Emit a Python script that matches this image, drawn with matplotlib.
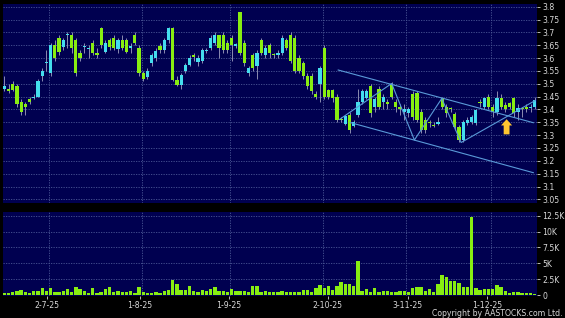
import matplotlib
matplotlib.use("Agg")
import matplotlib.pyplot as plt
import numpy as np

# ---------------- data ----------------
opens = [3.48, 3.48, 3.50, 3.49, 3.43, 3.42, 3.44, 3.445, 3.45, 3.53,
         3.58, 3.54, 3.65, 3.677, 3.644, 3.688, 3.69, 3.67, 3.62, 3.643,
         3.636, 3.66, 3.62, 3.718, 3.625, 3.67, 3.68, 3.635, 3.67, 3.67,
         3.64, 3.69, 3.64, 3.54, 3.528, 3.58, 3.60, 3.648, 3.631, 3.67,
         3.718, 3.515, 3.495, 3.55, 3.573, 3.612, 3.586, 3.59, 3.628, 3.64,
         3.66, 3.69, 3.69, 3.66, 3.68, 3.645, 3.78, 3.66, 3.54, 3.61,
         3.57, 3.67, 3.61, 3.65, 3.615, 3.61, 3.62, 3.67, 3.69, 3.68,
         3.60, 3.58, 3.53, 3.53, 3.46, 3.50, 3.64, 3.475, 3.475, 3.45,
         3.362, 3.345, 3.38, 3.335, 3.38, 3.43, 3.445, 3.49, 3.41, 3.48,
         3.43, 3.43, 3.50, 3.43, 3.41, 3.39, 3.385, 3.46, 3.463, 3.391,
         3.359, 3.352, 3.341, 3.343, 3.443, 3.411, 3.404, 3.381, 3.333, 3.281,
         3.346, 3.352, 3.346, 3.43, 3.411, 3.45, 3.411, 3.391, 3.443, 3.417,
         3.424, 3.443, 3.391, 3.404, 3.41, 3.404, 3.411]
highs = [3.53, 3.50, 3.51, 3.50, 3.44, 3.43, 3.45, 3.46, 3.52, 3.56,
         3.63, 3.66, 3.67, 3.69, 3.68, 3.70, 3.70, 3.68, 3.63, 3.66,
         3.65, 3.67, 3.64, 3.72, 3.67, 3.68, 3.69, 3.68, 3.69, 3.68,
         3.66, 3.70, 3.65, 3.55, 3.56, 3.62, 3.64, 3.66, 3.68, 3.72,
         3.72, 3.53, 3.54, 3.58, 3.61, 3.62, 3.61, 3.64, 3.64, 3.69,
         3.70, 3.69, 3.70, 3.67, 3.69, 3.66, 3.78, 3.67, 3.57, 3.62,
         3.63, 3.68, 3.65, 3.66, 3.62, 3.63, 3.69, 3.68, 3.70, 3.69,
         3.61, 3.59, 3.54, 3.54, 3.47, 3.57, 3.65, 3.48, 3.48, 3.46,
         3.37, 3.38, 3.39, 3.36, 3.48, 3.48, 3.48, 3.50, 3.45, 3.49,
         3.46, 3.44, 3.505, 3.44, 3.42, 3.42, 3.41, 3.47, 3.47, 3.40,
         3.37, 3.36, 3.35, 3.37, 3.45, 3.42, 3.41, 3.39, 3.34, 3.36,
         3.37, 3.38, 3.40, 3.44, 3.45, 3.46, 3.42, 3.47, 3.46, 3.43,
         3.43, 3.45, 3.42, 3.41, 3.42, 3.42, 3.45]
lows = [3.47, 3.465, 3.47, 3.41, 3.38, 3.38, 3.42, 3.44, 3.45, 3.51,
        3.55, 3.53, 3.59, 3.61, 3.63, 3.64, 3.62, 3.53, 3.59, 3.62,
        3.60, 3.61, 3.60, 3.64, 3.62, 3.63, 3.63, 3.62, 3.63, 3.62,
        3.62, 3.65, 3.53, 3.51, 3.52, 3.57, 3.59, 3.62, 3.62, 3.66,
        3.51, 3.49, 3.48, 3.54, 3.57, 3.59, 3.57, 3.58, 3.62, 3.63,
        3.65, 3.60, 3.62, 3.62, 3.59, 3.64, 3.61, 3.57, 3.53, 3.55,
        3.52, 3.61, 3.60, 3.60, 3.60, 3.60, 3.61, 3.63, 3.58, 3.54,
        3.54, 3.52, 3.48, 3.46, 3.44, 3.43, 3.44, 3.44, 3.43, 3.35,
        3.35, 3.34, 3.31, 3.33, 3.37, 3.42, 3.44, 3.37, 3.39, 3.40,
        3.40, 3.40, 3.44, 3.39, 3.38, 3.36, 3.37, 3.36, 3.35, 3.31,
        3.31, 3.33, 3.33, 3.34, 3.40, 3.37, 3.39, 3.32, 3.275, 3.275,
        3.34, 3.345, 3.34, 3.41, 3.40, 3.40, 3.37, 3.38, 3.40, 3.39,
        3.40, 3.37, 3.36, 3.37, 3.39, 3.39, 3.40]
closes = [3.49, 3.47, 3.475, 3.42, 3.39, 3.41, 3.43, 3.45, 3.51, 3.55,
          3.585, 3.65, 3.60, 3.625, 3.67, 3.692, 3.638, 3.54, 3.60, 3.647,
          3.64, 3.62, 3.61, 3.65, 3.657, 3.644, 3.64, 3.67, 3.64, 3.625,
          3.645, 3.66, 3.54, 3.52, 3.55, 3.612, 3.627, 3.631, 3.67, 3.718,
          3.515, 3.495, 3.534, 3.573, 3.599, 3.603, 3.60, 3.63, 3.632, 3.68,
          3.69, 3.64, 3.63, 3.63, 3.65, 3.655, 3.62, 3.58, 3.56, 3.56,
          3.62, 3.62, 3.64, 3.62, 3.61, 3.62, 3.68, 3.64, 3.59, 3.55,
          3.55, 3.53, 3.49, 3.47, 3.45, 3.56, 3.45, 3.45, 3.445, 3.36,
          3.358, 3.375, 3.32, 3.35, 3.43, 3.47, 3.47, 3.385, 3.44, 3.41,
          3.45, 3.42, 3.45, 3.41, 3.40, 3.40, 3.40, 3.37, 3.359, 3.32,
          3.32, 3.348, 3.337, 3.352, 3.411, 3.385, 3.40, 3.333, 3.281, 3.352,
          3.359, 3.372, 3.398, 3.424, 3.443, 3.411, 3.391, 3.443, 3.411, 3.40,
          3.411, 3.385, 3.404, 3.40, 3.40, 3.41, 3.437]
volume_k = [0.37, 0.37, 0.53, 0.68, 0.74, 0.42, 0.26, 0.58, 0.58, 1.05,
            0.68, 1.05, 0.47, 0.47, 0.63, 0.89, 0.53, 1.21, 0.89, 0.68,
            0.26, 1.05, 0.32, 0.42, 0.89, 1.21, 0.53, 0.68, 0.53, 0.53,
            0.63, 0.37, 1.31, 0.53, 0.32, 0.37, 0.42, 0.32, 0.68, 0.79,
            2.42, 1.68, 0.79, 0.79, 1.47, 0.68, 0.53, 0.79, 0.63, 0.95,
            1.31, 0.63, 0.63, 0.42, 0.95, 0.68, 0.68, 0.68, 0.53, 1.47,
            1.47, 0.53, 0.68, 0.53, 0.53, 0.47, 0.63, 0.53, 0.53, 0.53,
            0.42, 0.79, 0.79, 0.42, 1.05, 1.58, 1.05, 1.42, 0.79, 1.42,
            2.0, 1.68, 1.68, 1.35, 5.36, 0.68, 0.89, 0.42, 1.05, 0.42,
            0.63, 0.63, 0.42, 0.53, 0.68, 0.68, 0.53, 1.05, 1.31, 1.31,
            0.68, 0.89, 0.53, 1.73, 3.1, 2.9, 2.2, 2.2, 1.95, 1.31,
            1.31, 12.35, 1.05, 0.79, 0.89, 0.89, 0.95, 1.58, 1.31, 0.68,
            0.37, 0.42, 0.53, 0.26, 0.26, 0.26, 0.16]
date_labels = ["2-7-25", "1-8-25", "1-9-25", "2-10-25", "3-11-25", "1-12-25"]
price_ticks = [3.05, 3.1, 3.15, 3.2, 3.25, 3.3, 3.35, 3.4, 3.45, 3.5,
               3.55, 3.6, 3.65, 3.7, 3.75, 3.8]
volume_ticks_k = [0, 2.5, 5, 7.5, 10, 12.5]
volume_tick_labels = ["0", "2.5K", "5K", "7.5K", "10K", "12.5K"]
# trend-line annotations (bar index, price)
channel_upper = [(79.3, 3.5535), (125.65, 3.3484)]
channel_lower = [(82.1, 3.3492), (125.65, 3.1538)]
zigzag = [(79.6, 3.361), (92.0, 3.501), (97.4, 3.281), (103.9, 3.4426),
          (108.5, 3.2713), (126.1, 3.4348)]
arrow_at = (119.3, 3.303, 3.362)  # index, tail price, tip price

# ---------------- layout / style ----------------
label_pos = [10.1, 32.2, 53.4, 76.8, 95.8, 114.6]
grid_pos = [10.6, 32.6, 53.6, 75.6, 95.3, 115.5]
BG = "#000050"
UP = "#44ddee"
DOWN = "#88ee11"
GRID = "#4b5796"
TXT = "#d8d8d8"
FS = 5.6

o = np.array(opens); h = np.array(highs); l = np.array(lows); c = np.array(closes)
x = np.arange(len(o))
cols = [UP if cc >= oo else DOWN for oo, cc in zip(o, c)]

fig = plt.figure(figsize=(5.65, 3.18), dpi=100, facecolor="black")
ax = fig.add_axes([2.7/565, (318-203.3)/318, 534/565, 199.3/318], facecolor=BG)
axv = fig.add_axes([2.7/565, (318-295.7)/318, 534/565, 83.4/318], facecolor=BG, sharex=ax)

xlim = (-0.38, 126.45)

def style(a):
    for s in a.spines.values():
        s.set_visible(False)
    a.yaxis.tick_right()
    a.tick_params(axis="y", colors=TXT, labelsize=FS, length=2.5, width=0.6,
                  pad=1.5, direction="out")
    a.set_xlim(*xlim)

style(ax)
style(axv)

# grid
for p in price_ticks:
    ax.axhline(p, color=GRID, lw=0.6, ls=(0, (1.5, 1.5)), zorder=0)
for g in grid_pos:
    ax.axvline(g, color=GRID, lw=0.6, ls=(0, (1.5, 1.5)), zorder=0)
    axv.axvline(g, color=GRID, lw=0.6, ls=(0, (1.5, 1.5)), zorder=0)
for v in volume_ticks_k[1:]:
    axv.axhline(v, color=GRID, lw=0.6, ls=(0, (1.5, 1.5)), zorder=0)

# candles
ax.vlines(x, l, h, color="#8c8cb0", lw=0.7, zorder=2)
body_h = np.maximum(np.abs(c - o), 0.004)
ax.bar(x, body_h, bottom=np.minimum(o, c), width=0.76, color=cols, zorder=3,
       linewidth=0)

# trend lines
LC = "#5a9ad8"
for line in (channel_upper, channel_lower, zigzag):
    xs, ys = zip(*line)
    ax.plot(xs, ys, color=LC, lw=0.8, zorder=4)

# arrow
ax.annotate("", xy=(arrow_at[0], arrow_at[2]), xytext=(arrow_at[0], arrow_at[1]),
            arrowprops=dict(arrowstyle="simple,head_length=0.45,head_width=0.8,tail_width=0.42",
                            mutation_scale=10, color="#ffc530", lw=0,
                            shrinkA=0, shrinkB=0), zorder=5)

ax.set_ylim(3.0347, 3.8104)
ax.set_yticks(price_ticks)
ax.set_yticklabels([f"{p:g}" for p in price_ticks])
ax.tick_params(axis="x", bottom=False, labelbottom=False)

# volume
axv.bar(x, volume_k, width=0.8, color=DOWN, linewidth=0, zorder=3)
axv.set_ylim(-0.11, 13.04)
axv.set_yticks(volume_ticks_k)
axv.set_yticklabels(volume_tick_labels)
axv.set_xticks(label_pos)
axv.set_xticklabels(date_labels)
axv.tick_params(axis="x", colors=TXT, labelsize=FS, length=2, width=0.6, pad=1.5)

fig.text(563/565, 1 - 313/318, "Copyright by AASTOCKS.com Ltd.", color=TXT,
         fontsize=FS, ha="right", va="center")

fig.savefig("out.png", dpi=100, facecolor="black")
